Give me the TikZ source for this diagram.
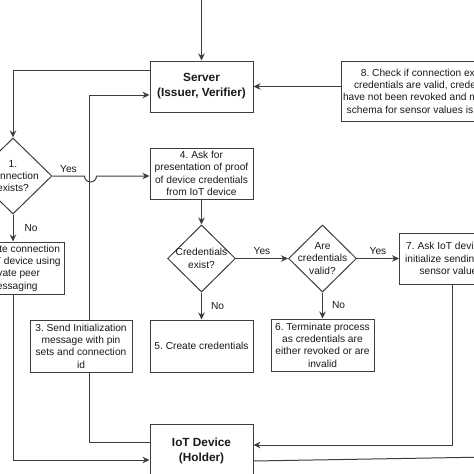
\documentclass[tikz,border=0pt]{standalone}
\usepackage{fontspec}
\setmainfont{Liberation Sans}
\usetikzlibrary{positioning,arrows.meta,shapes.geometric}
\definecolor{FlowGray}{RGB}{62,62,62}
\definecolor{TextDark}{RGB}{25,25,25}
\frenchspacing

\begin{document}
\begin{tikzpicture}[
x=1pt, y=-1pt,
font=\fontsize{10.2pt}{12.3pt}\selectfont,
box/.style={draw=FlowGray, line width=1pt, align=center, minimum width=103pt, minimum height=51pt, inner sep=2pt, text=TextDark},
actor/.style={box, font=\fontsize{11.8pt}{15pt}\selectfont\bfseries},
decision/.style={draw=FlowGray, line width=1pt, diamond, minimum width=68pt, minimum height=67pt, inner sep=0pt},
dtext/.style={align=center, inner sep=0pt, text=TextDark},
lbl/.style={text=TextDark, inner sep=1pt},
arr/.style={-{Stealth[length=7pt,width=6.5pt]}, line width=1pt, draw=FlowGray},
link/.style={line width=1pt, draw=FlowGray}
]
\useasboundingbox (0,0) rectangle (474,474);
\clip (0,0) rectangle (474,474);

\node[actor] (server) at (201.5,86.5) {Server\\(Issuer, Verifier)};
\node[box, below=35pt of server] (ask) {4. Ask for\\presentation of proof\\of device credentials\\from IoT device};
\node[decision, below=25pt of ask] (exist) {};
\node[dtext] (existt) at (exist) {Credentials\\exist?};
\node[box, below=27pt of exist, minimum height=52pt] (create) {5. Create credentials};
\node[actor, below=51pt of create, minimum height=53pt] (iot) {IoT Device\\(Holder)};
\node[decision, right=52pt of exist] (valid) {};
\node[dtext] (validt) at (valid) {Are\\credentials\\valid?};
\node[box, below=26pt of valid, minimum height=52pt] (term) {6. Terminate process\\as credentials are\\either revoked or are\\invalid};
\node[box, right=42pt of valid] (send) {7. Ask IoT device to\\initialize sending the\\sensor values};
\node[box, right=87pt of server.north east, anchor=north west, minimum width=170pt, minimum height=60pt] (check) {8. Check if connection exists,\\credentials are valid, credentials\\have not been revoked and message\\schema for sensor values is correct};
\node[decision, minimum width=78pt, minimum height=76pt] (conn) at (13,176) {};
\node[dtext] (connt) at (conn) {1.\\Connection\\exists?};
\node[box, below=27pt of conn, minimum height=52pt] (peer) {2. Create connection\\with IoT device using\\private peer\\messaging};
\node[box, left=17pt of create, minimum height=52pt, minimum width=102pt] (init) {3. Send Initialization\\message with pin\\sets and connection\\id};

\coordinate (entry) at ([yshift=66pt]server.north);
\coordinate (exit) at (490,457);

\draw[arr] (entry) -- (server);
\draw[arr] ([yshift=16.5pt]server.west) -| (conn.north);
\draw[arr] ([xshift=8pt]init.north) |- ([yshift=-8.5pt]server.west);
\draw[arr] (conn.east) -- node[lbl, above=2pt] {Yes} ++(32,0) arc[start angle=180, end angle=360, radius=6pt] -- (conn.east -| ask.west);
\draw[arr] (ask) -- (exist);
\draw[arr] (exist) -- node[lbl, above=2pt] {Yes} (valid);
\draw[arr] (valid) -- node[lbl, above=2pt] {Yes} (send);
\draw[arr] (exist) -- node[lbl, right=8pt] {No} (create);
\draw[arr] (valid) -- node[lbl, right=8pt] {No} (term);
\draw[arr] (conn) -- node[lbl, right=10pt] {No} (peer);
\draw[arr] (peer) |- ([yshift=-9.5pt]iot.west);
\draw[link] ([xshift=8pt]init.south) |- ([yshift=8.5pt]iot.west);
\draw[arr] ([xshift=1.5pt]send.south) |- ([yshift=5.5pt]iot.east);
\draw[link] ([yshift=-10.5pt]iot.east) -- (exit);
\draw[arr] (check.west |- server.east) -- (server.east);
\end{tikzpicture}
\end{document}
